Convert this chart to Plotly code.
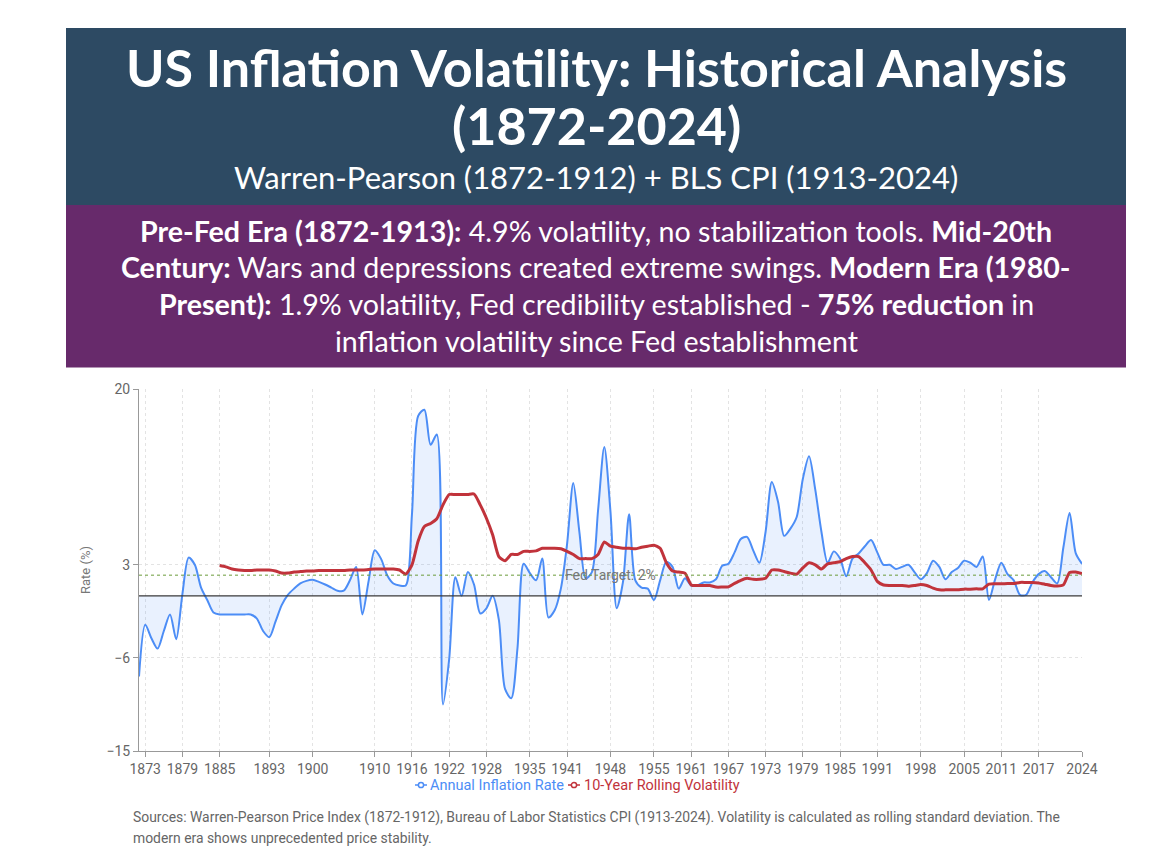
import plotly.graph_objects as go

# ---------------- data ----------------
years = list(range(1872, 2025))

annual_inflation = [
    -7.8, -2.8, -4.1, -5.1, -3.4, -1.8, -4.2, 0.2, 3.7, 3.0,          # 1872-1881
    0.8, -0.4, -1.6, -1.8, -1.8, -1.8, -1.8, -1.8, -1.8, -2.2,         # 1882-1891
    -3.4, -4.0, -2.5, -0.9, 0.1, 0.7, 1.2, 1.45, 1.55, 1.35,           # 1892-1901
    1.1, 0.8, 0.5, 0.5, 1.5, 2.8, -1.8, 1.4, 4.4, 3.6,                 # 1902-1911
    2.0, 1.2, 1.0, 1.0, 7.9, 17.4, 18.0, 14.6, 15.6, -10.5,            # 1912-1921
    -6.1, 1.8, 0.0, 2.3, 1.1, -1.7, -1.2, 0.0, -2.3, -9.0,             # 1922-1931
    -9.9, -5.1, 3.1, 2.2, 1.5, 3.6, -2.1, -1.4, 0.7, 5.0,              # 1932-1941
    10.9, 6.1, 1.7, 2.3, 8.3, 14.4, 8.1, -1.2, 1.3, 7.9,               # 1942-1951
    1.5, 0.8, 0.7, -0.4, 1.5, 3.3, 2.8, 0.7, 1.7, 1.0,                 # 1952-1961
    1.0, 1.3, 1.3, 1.6, 2.9, 3.1, 4.2, 5.5, 5.7, 4.4,                  # 1962-1971
    3.2, 6.2, 11.0, 9.1, 5.8, 6.5, 7.6, 11.3, 13.5, 10.3,              # 1972-1981
    6.2, 3.2, 4.3, 3.6, 1.9, 3.6, 4.1, 4.8, 5.4, 4.2,                  # 1982-1991
    3.0, 3.0, 2.6, 2.8, 3.0, 2.3, 1.6, 2.2, 3.4, 2.8,                  # 1992-2001
    1.6, 2.3, 2.7, 3.4, 3.2, 2.8, 3.8, -0.4, 1.6, 3.2,                 # 2002-2011
    2.1, 1.5, 0.1, 0.1, 1.3, 2.1, 2.4, 1.8, 1.2, 4.7,                  # 2012-2021
    8.0, 4.1, 3.1,                                                     # 2022-2024
]

vol_years = list(range(1885, 2025))
rolling_volatility = [
    2.93, 2.8, 2.6, 2.5, 2.45, 2.45, 2.5, 2.5, 2.5, 2.4,               # 1885-1894
    2.2, 2.2, 2.3, 2.35, 2.4, 2.4, 2.45, 2.45, 2.45, 2.45,             # 1895-1904
    2.45, 2.5, 2.5, 2.5, 2.55, 2.6, 2.6, 2.6, 2.6, 2.5,                # 1905-1914
    2.1, 3.0, 5.3, 6.7, 7.0, 7.45, 8.8, 9.8, 9.8, 9.8,                 # 1915-1924
    9.8, 9.85, 8.8, 7.5, 5.9, 3.8, 3.4, 4.0, 4.0, 4.3,                 # 1925-1934
    4.3, 4.35, 4.6, 4.6, 4.6, 4.55, 4.3, 4.0, 3.6, 3.6,                # 1935-1944
    3.6, 4.0, 5.2, 4.8, 4.7, 4.6, 4.6, 4.55, 4.7, 4.8,                 # 1945-1954
    4.9, 4.6, 3.2, 2.4, 2.3, 2.2, 1.06, 1.0, 1.0, 1.0,                 # 1955-1964
    0.85, 0.85, 0.87, 1.2, 1.5, 1.7, 1.6, 1.6, 1.7, 2.5,               # 1965-1974
    2.5, 2.35, 2.2, 2.1, 2.7, 3.2, 3.0, 2.6, 3.1, 3.2,                 # 1975-1984
    3.3, 3.6, 3.8, 3.8, 3.2, 2.5, 1.4, 1.05, 1.0, 1.0,                 # 1985-1994
    1.0, 0.93, 1.0, 1.1, 1.0, 0.75, 0.58, 0.58, 0.58, 0.6,             # 1995-2004
    0.65, 0.65, 0.68, 0.68, 1.13, 1.16, 1.16, 1.2, 1.2, 1.3,           # 2005-2014
    1.3, 1.3, 1.25, 1.13, 1.0, 0.95, 1.06, 2.26, 2.3, 2.15,            # 2015-2024
]

fed_target = 2
x_tick_years = [1873, 1879, 1885, 1893, 1900, 1910, 1916, 1922, 1928, 1935, 1941,
                1948, 1955, 1961, 1967, 1973, 1979, 1985, 1991, 1998, 2005, 2011,
                2017, 2024]
y_ticks = [-15, -6, 3, 20]

series_names = ["Annual Inflation Rate", "10-Year Rolling Volatility"]
title_lines = ["US Inflation Volatility: Historical Analysis", "(1872-2024)"]
subtitle = "Warren-Pearson (1872-1912) + BLS CPI (1913-2024)"
insight_lines = [
    "<b>Pre-Fed Era (1872-1913):</b> 4.9% volatility, no stabilization tools. <b>Mid-20th</b>",
    "<b>Century:</b> Wars and depressions created extreme swings. <b>Modern Era (1980-</b>",
    "<b>Present):</b> 1.9% volatility, Fed credibility established - <b>75% reduction</b> in",
    "inflation volatility since Fed establishment",
]
source_lines = [
    "Sources: Warren-Pearson Price Index (1872-1912), Bureau of Labor Statistics CPI (1913-2024). Volatility is calculated as rolling standard deviation. The",
    "modern era shows unprecedented price stability.",
]

# ---------------- layout geometry (pixels) ----------------
W, H = 1169, 859
PL, PR, PT, PB = 139, 1082, 389, 751
BOX_L, BOX_R = 66, 1126
BOX_C = (BOX_L + BOX_R) / 2


def px(xp):
    return (xp - PL) / (PR - PL)


def py(yp):
    return (PB - yp) / (PB - PT)


BLUE = "#4c8df6"
RED = "#c1333b"
NAVY = "#2d4a63"
PURPLE = "#672a6b"
HFONT = "Lato"

fig = go.Figure()

fig.add_trace(go.Scatter(
    x=years, y=annual_inflation, mode="lines", name=series_names[0],
    line=dict(color=BLUE, width=2, shape="spline", smoothing=0.8),
    fill="tozeroy", fillcolor="rgba(76,141,246,0.12)",
    showlegend=False, hoverinfo="x+y",
))
fig.add_trace(go.Scatter(
    x=vol_years, y=rolling_volatility, mode="lines", name=series_names[1],
    line=dict(color=RED, width=3, shape="spline", smoothing=0.6),
    showlegend=False, hoverinfo="x+y",
))

shapes = [
    # header boxes
    dict(type="rect", xref="paper", yref="paper", x0=px(BOX_L), x1=px(BOX_R),
         y0=py(205), y1=py(28), fillcolor=NAVY, line=dict(width=0), layer="below"),
    dict(type="rect", xref="paper", yref="paper", x0=px(BOX_L), x1=px(BOX_R),
         y0=py(367.5), y1=py(205), fillcolor=PURPLE, line=dict(width=0), layer="below"),
    # zero line
    dict(type="line", xref="paper", yref="y", x0=0, x1=1, y0=0, y1=0,
         line=dict(color="#3a3a3a", width=1.2)),
    # fed target
    dict(type="line", xref="paper", yref="y", x0=0, x1=1, y0=fed_target, y1=fed_target,
         line=dict(color="#6b9c3a", width=1, dash="dot")),
]

# custom legend (line with small open circle, coloured text)
legend_y = 785
legend_items = [(series_names[0], BLUE, 421, 428), (series_names[1], RED, 574, 582)]
annotations = []
for name, col, cx, tx in legend_items:
    shapes.append(dict(type="line", xref="paper", yref="paper",
                       x0=px(cx - 6), x1=px(cx + 6), y0=py(legend_y), y1=py(legend_y),
                       line=dict(color=col, width=1.5)))
    shapes.append(dict(type="circle", xref="paper", yref="paper",
                       x0=px(cx - 2.6), x1=px(cx + 2.6),
                       y0=py(legend_y + 2.6), y1=py(legend_y - 2.6),
                       fillcolor="white", line=dict(color=col, width=1.5)))
    annotations.append(dict(text=name, x=px(tx), y=py(legend_y), xref="paper", yref="paper",
                            xanchor="left", yanchor="middle", showarrow=False,
                            font=dict(family="Roboto", size=14.5, color=col)))

annotations += [
    dict(text=title_lines[0], x=px(BOX_C), y=py(67), xref="paper", yref="paper",
         xanchor="center", yanchor="middle", showarrow=False,
         font=dict(family=HFONT, size=52, color="white", weight="bold")),
    dict(text=title_lines[1], x=px(BOX_C), y=py(125), xref="paper", yref="paper",
         xanchor="center", yanchor="middle", showarrow=False,
         font=dict(family=HFONT, size=52, color="white", weight="bold")),
    dict(text=subtitle, x=px(BOX_C), y=py(177), xref="paper", yref="paper",
         xanchor="center", yanchor="middle", showarrow=False,
         font=dict(family=HFONT, size=31, color="white")),
    dict(text="Fed Target: 2%", x=0.5, y=fed_target, xref="paper", yref="y",
         xanchor="center", yanchor="middle", showarrow=False,
         font=dict(family="Roboto", size=14, color="#777777")),
]
line_y = [231, 267, 304, 341]
for t, yy in zip(insight_lines, line_y):
    annotations.append(dict(text=t, x=px(BOX_C), y=py(yy), xref="paper", yref="paper",
                            xanchor="center", yanchor="middle", showarrow=False,
                            font=dict(family=HFONT, size=28.6, color="white")))
for t, yy in zip(source_lines, [817, 838]):
    annotations.append(dict(text=t, x=px(131), y=py(yy), xref="paper", yref="paper",
                            xanchor="left", yanchor="middle", showarrow=False,
                            font=dict(family="Roboto", size=13.9, color="#666666")))

fig.update_layout(
    width=W, height=H, autosize=False,
    margin=dict(l=PL, r=W - PR, t=PT, b=H - PB, pad=0),
    paper_bgcolor="white", plot_bgcolor="white",
    font=dict(family="Roboto", size=14, color="#666666"),
    shapes=shapes, annotations=annotations,
    showlegend=False,
    xaxis=dict(
        range=[1872, 2024], tickmode="array", tickvals=x_tick_years,
        ticktext=[str(v) for v in x_tick_years],
        showgrid=True, gridcolor="#e3e3e3", griddash="3px,3px", gridwidth=1,
        showline=True, linecolor="#999999", linewidth=1,
        ticks="outside", ticklen=5, tickcolor="#999999",
        tickfont=dict(size=14, color="#666666"), zeroline=False,
    ),
    yaxis=dict(
        range=[-15, 20], tickmode="array", tickvals=y_ticks,
        showgrid=True, gridcolor="#e3e3e3", griddash="3px,3px", gridwidth=1,
        showline=True, linecolor="#999999", linewidth=1,
        ticks="outside", ticklen=5, tickcolor="#999999",
        tickfont=dict(size=14, color="#666666"), zeroline=False,
        title=dict(text="Rate (%)", font=dict(size=13, color="#777777"), standoff=12),
    ),
)

fig.write_html("out.html")
